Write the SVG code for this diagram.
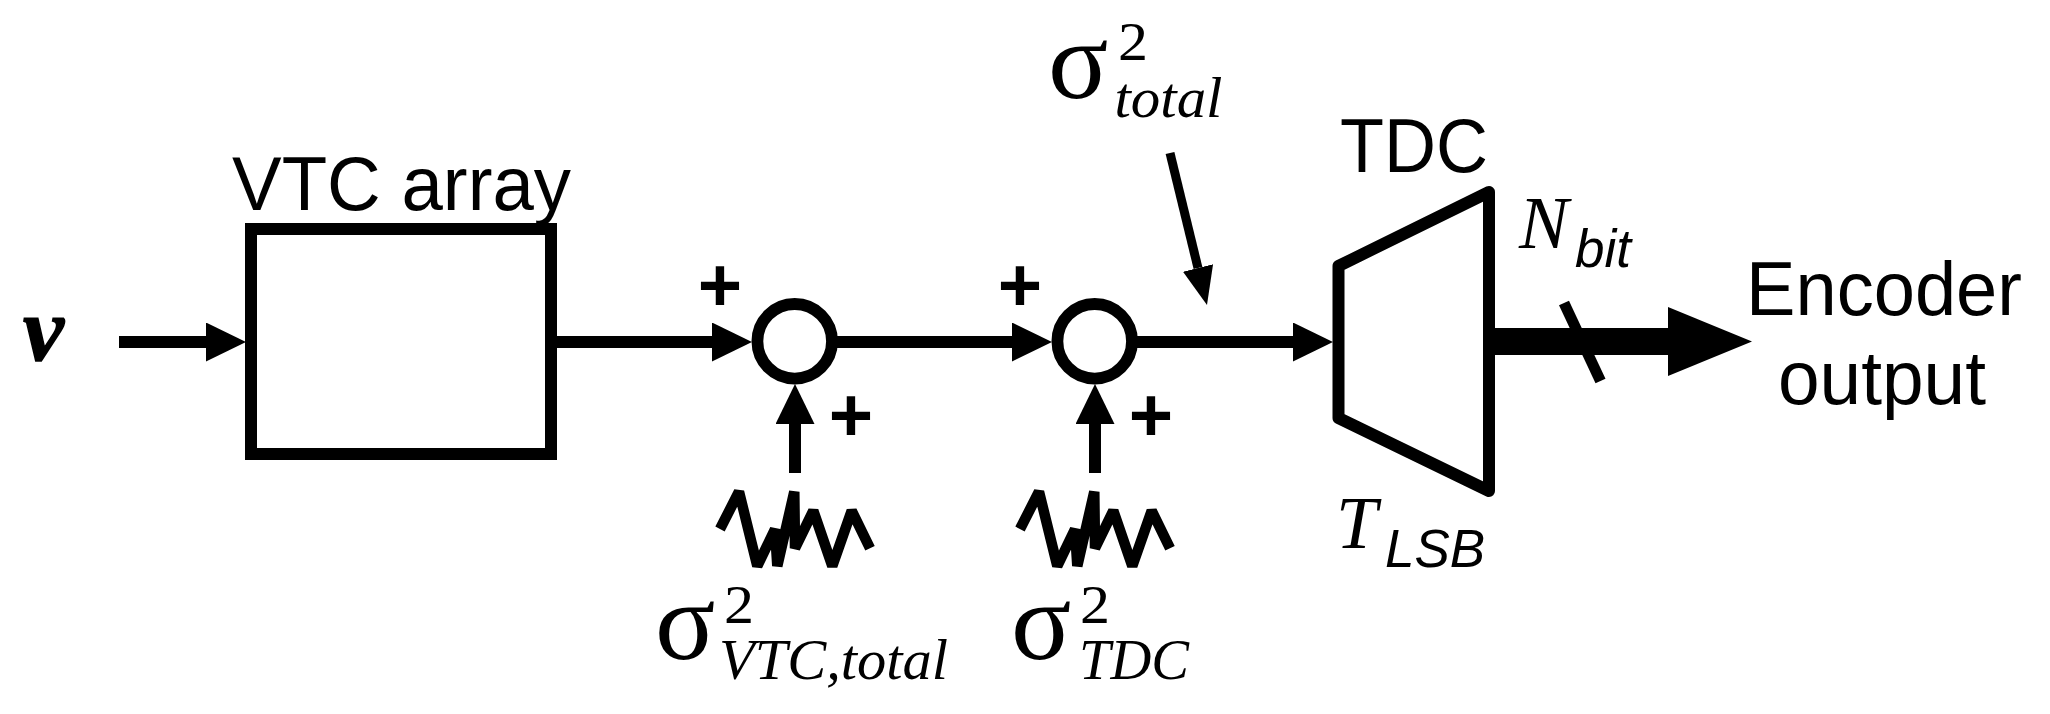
<svg xmlns="http://www.w3.org/2000/svg" width="2050" height="714" viewBox="0 0 2050 714">
<style>
.bg{fill:#fff}
.w{fill:none;stroke:#000;stroke-width:12}
.sum{fill:#fff;stroke:#000;stroke-width:11.8}
.noise{fill:none;stroke:#000;stroke-width:10.5;stroke-linejoin:bevel}
.sans{font-family:"Liberation Sans",Arial,sans-serif;font-size:76px;fill:#000}
.plus{font-family:"Liberation Sans",Arial,sans-serif;font-weight:bold;font-size:76px;text-anchor:middle;fill:#000}
.sig{font-family:"Liberation Serif","Times New Roman",serif;font-size:112px;fill:#000}
.two{font-family:"Liberation Serif","Times New Roman",serif;font-size:55px;fill:#000}
.sub{font-family:"Liberation Serif","Times New Roman",serif;font-style:italic;font-size:56px;fill:#000}
.mi{font-family:"Liberation Serif","Times New Roman",serif;font-style:italic;font-size:74px;fill:#000}
.si{font-family:"Liberation Sans",Arial,sans-serif;font-style:italic;font-size:54px;fill:#000}
</style>
<defs>
<marker id="a" markerUnits="userSpaceOnUse" markerWidth="40" markerHeight="39" refX="0" refY="19.5" orient="auto"><path d="M0 0L40 19.5L0 39z"/></marker>
<marker id="b" markerUnits="userSpaceOnUse" markerWidth="38" markerHeight="31" refX="0" refY="15.5" orient="auto"><path d="M0 0L38 15.5L0 31z"/></marker>
<marker id="c" markerUnits="userSpaceOnUse" markerWidth="84" markerHeight="69" refX="0" refY="34.5" orient="auto"><path d="M0 0L84 34.5L0 69z"/></marker>
<polyline id="nz" class="noise" points="720,529 739,491.7 757.3,566 775,529.3 777.3,566 794.3,491.7 795,548.3 813.3,510.7 832.3,566 851.7,510.7 870,548.3"/>
</defs>
<rect class="bg" width="2050" height="714"/>
<g id="connectors">
<line class="w" x1="119" y1="342" x2="206" y2="342" marker-end="url(#a)"/>
<line class="w" x1="551" y1="342" x2="712" y2="342" marker-end="url(#a)"/>
<line class="w" x1="832" y1="342" x2="1012" y2="342" marker-end="url(#a)"/>
<line class="w" x1="1132" y1="342" x2="1293" y2="342" marker-end="url(#a)"/>
<line class="w" x1="795" y1="473" x2="795" y2="424" marker-end="url(#a)"/>
<line class="w" x1="1095" y1="473" x2="1095" y2="424" marker-end="url(#a)"/>
<line class="w" style="stroke-width:9" x1="1170" y1="153" x2="1198" y2="268" marker-end="url(#b)"/>
<line class="w" style="stroke-width:27" x1="1489" y1="341.5" x2="1668" y2="341.5" marker-end="url(#c)"/>
<line class="w" style="stroke-width:11" x1="1564" y1="303" x2="1600.5" y2="381"/>
</g>
<g id="input"><text x="23" y="360" font-family="'Liberation Serif','Times New Roman',serif" font-weight="bold" font-style="italic" font-size="92" stroke="#000" stroke-width="1.5">v</text></g>
<g id="vtc-array">
<rect class="w" x="251" y="229" width="300" height="225"/>
<text class="sans" x="232" y="210" textLength="339" lengthAdjust="spacingAndGlyphs">VTC array</text>
</g>
<g id="sum1">
<circle class="sum" cx="794.7" cy="341.3" r="37.3"/>
<text class="plus" x="720" y="311">+</text>
<text class="plus" x="851" y="441">+</text>
</g>
<g id="noise-vtc">
<use href="#nz"/>
<text class="sig" x="655" y="659">σ</text>
<text class="two" x="724" y="622.7" textLength="30" lengthAdjust="spacingAndGlyphs">2</text>
<text class="sub" x="719" y="679" textLength="229" lengthAdjust="spacingAndGlyphs">VTC,total</text>
</g>
<g id="sum2">
<circle class="sum" cx="1094.7" cy="341.3" r="37.3"/>
<text class="plus" x="1020" y="311">+</text>
<text class="plus" x="1151" y="441">+</text>
</g>
<g id="noise-tdc">
<use href="#nz" x="300"/>
<text class="sig" x="1011" y="659">σ</text>
<text class="two" x="1080" y="622.7" textLength="30" lengthAdjust="spacingAndGlyphs">2</text>
<text class="sub" x="1079" y="679" textLength="110" lengthAdjust="spacingAndGlyphs">TDC</text>
</g>
<g id="total-noise">
<text class="sig" x="1048" y="98">σ</text>
<text class="two" x="1118" y="60" textLength="30" lengthAdjust="spacingAndGlyphs">2</text>
<text class="sub" x="1114.5" y="117" textLength="108" lengthAdjust="spacingAndGlyphs">total</text>
</g>
<g id="tdc">
<polygon class="w" style="stroke-linejoin:round" points="1338.5,266 1489,192 1489,491 1338.5,418"/>
<text class="sans" x="1340" y="172" textLength="148" lengthAdjust="spacingAndGlyphs">TDC</text>
<text class="mi" x="1336" y="548">T</text>
<text class="si" x="1385" y="567" style="font-size:53px">LSB</text>
</g>
<g id="bits">
<text class="mi" x="1519" y="248">N</text>
<text class="si" x="1575" y="267" textLength="56" lengthAdjust="spacingAndGlyphs">bit</text>
</g>
<g id="output">
<text class="sans" x="1746" y="315" textLength="276" lengthAdjust="spacingAndGlyphs">Encoder</text>
<text class="sans" x="1778" y="404" textLength="208" lengthAdjust="spacingAndGlyphs">output</text>
</g>
</svg>
